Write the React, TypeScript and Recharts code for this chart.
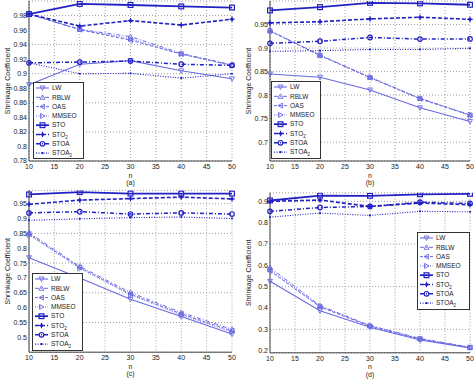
import { CartesianGrid, Legend, Line, LineChart, XAxis, YAxis } from 'recharts';

// sample sizes on the x axis
const N_VALUES = [10, 20, 30, 40, 50];
const X_TICKS = [10, 15, 20, 25, 30, 35, 40, 45, 50];

// (a)
const A_LW = [0.885, 0.913, 0.918, 0.904, 0.893];
const A_RBLW = [0.982, 0.961, 0.951, 0.928, 0.912];
const A_OAS = [0.982, 0.9605, 0.946, 0.927, 0.912];
const A_MMSEO = [0.982, 0.961, 0.948, 0.927, 0.911];
const A_STO = [0.982, 0.996, 0.9945, 0.9926, 0.991];
const A_STO2 = [0.982, 0.9655, 0.973, 0.967, 0.975];
const A_STOA = [0.915, 0.916, 0.9175, 0.913, 0.9115];
const A_STOA2 = [0.915, 0.9, 0.9005, 0.894, 0.9];
const A_Y_TICKS = [0.78, 0.8, 0.82, 0.84, 0.86, 0.88, 0.9, 0.92, 0.94, 0.96, 0.98];

// (b)
const B_LW = [0.845, 0.838, 0.811, 0.773, 0.744];
const B_RBLW = [0.937, 0.885, 0.838, 0.793, 0.758];
const B_OAS = [0.936, 0.884, 0.837, 0.792, 0.757];
const B_MMSEO = [0.937, 0.885, 0.838, 0.793, 0.758];
const B_STO = [0.98, 0.987, 0.996, 0.995, 0.992];
const B_STO2 = [0.9535, 0.956, 0.962, 0.9655, 0.961];
const B_STOA = [0.91, 0.9145, 0.9225, 0.919, 0.9195];
const B_STOA2 = [0.893, 0.8945, 0.897, 0.897, 0.8995];
const B_Y_TICKS = [0.7, 0.75, 0.8, 0.85, 0.9, 0.95];

// (c)
const C_LW = [0.768, 0.7, 0.628, 0.57, 0.511];
const C_RBLW = [0.852, 0.739, 0.651, 0.584, 0.527];
const C_OAS = [0.848, 0.735, 0.646, 0.579, 0.522];
const C_MMSEO = [0.845, 0.732, 0.643, 0.576, 0.518];
const C_STO = [0.981, 0.989, 0.984, 0.984, 0.984];
const C_STO2 = [0.948, 0.962, 0.967, 0.972, 0.966];
const C_STOA = [0.919, 0.923, 0.915, 0.919, 0.915];
const C_STOA2 = [0.894, 0.899, 0.903, 0.905, 0.9];
const C_Y_TICKS = [0.5, 0.55, 0.6, 0.65, 0.7, 0.75, 0.8, 0.85, 0.9, 0.95];

// (d)
const D_LW = [0.525, 0.387, 0.31, 0.25, 0.213];
const D_RBLW = [0.59, 0.411, 0.318, 0.257, 0.216];
const D_OAS = [0.574, 0.405, 0.314, 0.255, 0.215];
const D_MMSEO = [0.58, 0.408, 0.316, 0.256, 0.215];
const D_STO = [0.904, 0.927, 0.926, 0.933, 0.935];
const D_STO2 = [0.9, 0.906, 0.876, 0.892, 0.884];
const D_STOA = [0.853, 0.871, 0.876, 0.896, 0.89];
const D_STOA2 = [0.826, 0.845, 0.834, 0.853, 0.851];
const D_Y_TICKS = [0.2, 0.3, 0.4, 0.5, 0.6, 0.7, 0.8, 0.9];

const DARK = '#2222c4';
const LIGHT = '#6a6ae2';
const FONT = '"Liberation Sans", Arial, sans-serif';

const SERIES = [
  { key: 'LW', label: 'LW', sub: '', color: LIGHT, width: 1.1, dash: undefined, marker: 'down' },
  { key: 'RBLW', label: 'RBLW', sub: '', color: LIGHT, width: 1, dash: '4 2 1 2', marker: 'up' },
  { key: 'OAS', label: 'OAS', sub: '', color: LIGHT, width: 1, dash: '3 2', marker: 'left' },
  { key: 'MMSEO', label: 'MMSEO', sub: '', color: LIGHT, width: 1, dash: '1 1.5', marker: 'right' },
  { key: 'STO', label: 'STO', sub: '', color: DARK, width: 1.8, dash: undefined, marker: 'square' },
  { key: 'STO2', label: 'STO', sub: '2', color: DARK, width: 1.6, dash: '4 2', marker: 'star' },
  { key: 'STOA', label: 'STOA', sub: '', color: DARK, width: 1.5, dash: '4 2 1 2', marker: 'circle' },
  { key: 'STOA2', label: 'STOA', sub: '2', color: DARK, width: 1.1, dash: '1 1.5', marker: 'dot' },
];

const buildRows = (cols: Record<string, number[]>) =>
  N_VALUES.map((n, i) => {
    const row: Record<string, number> = { n };
    Object.keys(cols).forEach((k) => (row[k] = cols[k][i]));
    return row;
  });

const PANELS = [
  {
    id: 'a', left: 0, top: 0, w: 237, h: 194,
    margin: { top: 1, right: 5, left: 0, bottom: 3 }, yWidth: 29, yLabelX: 8,
    domain: [0.78, 1.0], yTicks: A_Y_TICKS,
    rows: buildRows({ LW: A_LW, RBLW: A_RBLW, OAS: A_OAS, MMSEO: A_MMSEO, STO: A_STO, STO2: A_STO2, STOA: A_STOA, STOA2: A_STOA2 }),
    legend: { left: 33, top: 82, w: 51, h: 77 },
  },
  {
    id: 'b', left: 237, top: 0, w: 237, h: 194,
    margin: { top: 1, right: 4, left: 0, bottom: 3 }, yWidth: 33, yLabelX: 11.7,
    domain: [0.66, 1.0], yTicks: B_Y_TICKS,
    rows: buildRows({ LW: B_LW, RBLW: B_RBLW, OAS: B_OAS, MMSEO: B_MMSEO, STO: B_STO, STO2: B_STO2, STOA: B_STOA, STOA2: B_STOA2 }),
    legend: { left: 34, top: 81, w: 50, h: 78 },
  },
  {
    id: 'c', left: 0, top: 188, w: 237, h: 201,
    margin: { top: 2.3, right: 5, left: 0, bottom: 6.8 }, yWidth: 29, yLabelX: 8,
    domain: [0.45, 0.995], yTicks: C_Y_TICKS,
    rows: buildRows({ LW: C_LW, RBLW: C_RBLW, OAS: C_OAS, MMSEO: C_MMSEO, STO: C_STO, STO2: C_STO2, STOA: C_STOA, STOA2: C_STOA2 }),
    legend: { left: 32, top: 85, w: 51, h: 78 },
  },
  {
    id: 'd', left: 237, top: 188, w: 237, h: 201,
    margin: { top: 4.8, right: 4, left: 0, bottom: 6.2 }, yWidth: 33, yLabelX: 11.7,
    domain: [0.19, 0.94], yTicks: D_Y_TICKS,
    rows: buildRows({ LW: D_LW, RBLW: D_RBLW, OAS: D_OAS, MMSEO: D_MMSEO, STO: D_STO, STO2: D_STO2, STOA: D_STOA, STOA2: D_STOA2 }),
    legend: { left: 180, top: 44, w: 53, h: 78 },
  },
];

const Marker = ({ type, x, y, color }) => {
  const s = 2.5;
  switch (type) {
    case 'down':
      return <polygon points={`${x - s},${y - s * 0.8} ${x + s},${y - s * 0.8} ${x},${y + s}`} fill="none" stroke={color} strokeWidth={0.9} />;
    case 'up':
      return <polygon points={`${x - s},${y + s * 0.8} ${x + s},${y + s * 0.8} ${x},${y - s}`} fill="none" stroke={color} strokeWidth={0.9} />;
    case 'left':
      return <polygon points={`${x + s * 0.8},${y - s} ${x + s * 0.8},${y + s} ${x - s},${y}`} fill="none" stroke={color} strokeWidth={0.9} />;
    case 'right':
      return <polygon points={`${x - s * 0.8},${y - s} ${x - s * 0.8},${y + s} ${x + s},${y}`} fill="none" stroke={color} strokeWidth={0.9} />;
    case 'square':
      return <rect x={x - 2.4} y={y - 2.4} width={4.8} height={4.8} fill="none" stroke={color} strokeWidth={1.2} />;
    case 'star':
      return (
        <g>
          <path d={`M${x - 2.7},${y}H${x + 2.7}M${x},${y - 2.7}V${y + 2.7}`} stroke={color} strokeWidth={1.1} />
          <circle cx={x} cy={y} r={1.6} fill={color} />
        </g>
      );
    case 'circle':
      return <circle cx={x} cy={y} r={2.3} fill="none" stroke={color} strokeWidth={1.2} />;
    default:
      return <circle cx={x} cy={y} r={1.1} fill={color} />;
  }
};

const LegendBox = ({ w, h }) => (
  <div style={{ width: w, height: h, border: '1px solid #333', background: '#fff', boxSizing: 'border-box' }}>
    <svg width={w - 2} height={h - 2} style={{ display: 'block' }}>
      {SERIES.map((s, i) => {
        const y = 5 + i * 9.3;
        return (
          <g key={s.key}>
            <line x1={2} x2={15} y1={y} y2={y} stroke={s.color} strokeWidth={s.width} strokeDasharray={s.dash} />
            <Marker type={s.marker} x={8.5} y={y} color={s.color} />
            <text x={18} y={y} dy="0.35em" fontSize={6.5} fill="#222" fontFamily={FONT}>
              {s.label}
              {s.sub && <tspan fontSize={4.5} dy={2}>{s.sub}</tspan>}
            </text>
          </g>
        );
      })}
    </svg>
  </div>
);

const fmt = (v: number) => String(parseFloat(v.toFixed(2)));
const tickStyle = { fontSize: 7, fill: '#222', fontFamily: FONT };

const Panel = ({ p }) => (
  <div style={{ position: 'absolute', left: p.left, top: p.top }}>
    <LineChart width={p.w} height={p.h} data={p.rows} margin={p.margin}>
      <CartesianGrid strokeDasharray="1 2" stroke="#a0a0a0" />
      <XAxis
        dataKey="n"
        type="number"
        domain={[10, 50]}
        ticks={X_TICKS}
        tick={tickStyle}
        tickLine={false}
        tickSize={0}
        tickMargin={3}
        height={30}
        axisLine={{ stroke: '#444' }}
        label={(props) => {
          const vb = props.viewBox;
          const cx = vb.x + vb.width / 2;
          return (
            <g fontFamily={FONT} fontSize={7} fill="#222" textAnchor="middle">
              <text x={cx} y={vb.y + 16.5}>n</text>
              <text x={cx} y={vb.y + 24}>({p.id})</text>
            </g>
          );
        }}
      />
      <XAxis xAxisId="top" orientation="top" dataKey="n" type="number" domain={[10, 50]} tick={false} tickLine={false} height={0} axisLine={{ stroke: '#444' }} />
      <YAxis
        type="number"
        domain={p.domain}
        allowDataOverflow
        ticks={p.yTicks}
        tickFormatter={fmt}
        tick={tickStyle}
        tickLine={false}
        tickSize={0}
        tickMargin={2}
        width={p.yWidth}
        axisLine={{ stroke: '#444' }}
        label={{
          value: 'Shrinkage Coefficient',
          angle: -90,
          position: 'insideLeft',
          offset: p.yLabelX,
          style: { textAnchor: 'middle', fontSize: 7, fill: '#222', fontFamily: FONT },
        }}
      />
      <YAxis yAxisId="right" orientation="right" domain={p.domain} tick={false} tickLine={false} width={0} axisLine={{ stroke: '#444' }} />
      {SERIES.map((s) => (
        <Line
          key={s.key}
          dataKey={s.key}
          name={s.key}
          type="linear"
          stroke={s.color}
          strokeWidth={s.width}
          strokeDasharray={s.dash}
          isAnimationActive={false}
          dot={(d) => <Marker key={`${s.key}-${d.index}`} type={s.marker} x={d.cx} y={d.cy} color={s.color} />}
          activeDot={false}
        />
      ))}
      <Legend
        layout="vertical"
        align="center"
        verticalAlign="middle"
        wrapperStyle={{ left: p.legend.left, top: p.legend.top, width: p.legend.w, height: p.legend.h }}
        content={() => <LegendBox w={p.legend.w} h={p.legend.h} />}
      />
    </LineChart>
  </div>
);

export default function App() {
  return (
    <div style={{ position: 'absolute', left: 0, top: 0, width: 474, height: 389, background: '#fff', overflow: 'hidden' }}>
      {PANELS.map((p) => (
        <Panel key={p.id} p={p} />
      ))}
    </div>
  );
}
